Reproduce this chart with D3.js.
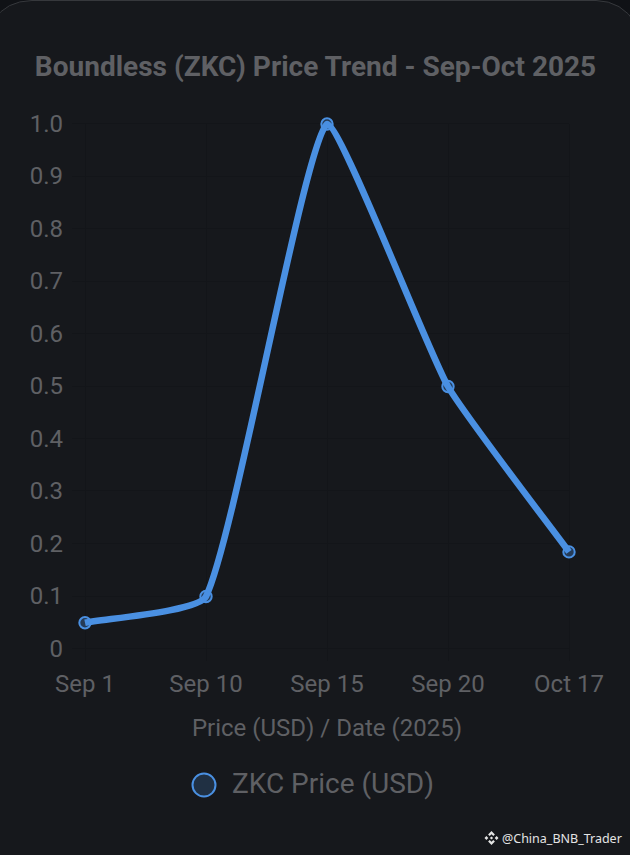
<!DOCTYPE html>
<html>
<head>
<meta charset="utf-8">
<script src="https://cdn.jsdelivr.net/npm/d3@7"></script>
<style>
  html, body { margin: 0; padding: 0; background: #101216; }
  svg { display: block; font-family: Roboto, sans-serif; }
</style>
</head>
<body>
<svg id="chart"></svg>
<script>
const dates = ['Sep 1', 'Sep 10', 'Sep 15', 'Sep 20', 'Oct 17'];
const prices = [0.05, 0.1, 1.0, 0.5, 0.185];
const yTicks = [0, 0.1, 0.2, 0.3, 0.4, 0.5, 0.6, 0.7, 0.8, 0.9, 1.0];
const titleText = 'Boundless (ZKC) Price Trend - Sep-Oct 2025';
const xTitleText = 'Price (USD) / Date (2025)';
const legendText = 'ZKC Price (USD)';
const watermarkText = '@China_BNB_Trader';

const width = 630,
  height = 855,
  plotLeft = 85,
  plotRight = 569,
  plotTop = 124,
  plotBottom = 649;

const lineColor = '#4a90e2',
  textColor = '#5f6064',
  gridColor = '#131519';

const svg = d3.select('#chart').attr('width', width).attr('height', height);

// card, runs past the picture on both sides so only the top edge shows
svg.append('path')
  .attr('d', 'M-6,20Q6,1 32,0.5H596Q622,1 636,24V' + (height + 5) + 'H-6Z')
  .attr('fill', '#16181c')
  .attr('stroke', '#36383c');

const x = d3.scalePoint().domain(dates).range([plotLeft, plotRight]);
const y = d3.scaleLinear().domain([0, 1]).range([plotBottom, plotTop]);

// same spline the original charting library uses, control points kept inside the plot
function cappedSpline(context) {
  let pts = [];
  const tension = 0.15;
  const capX = (v) => Math.max(plotLeft, Math.min(plotRight, v));
  const capY = (v) => Math.max(plotTop, Math.min(plotBottom, v));
  return {
    areaStart() {},
    areaEnd() {},
    lineStart() { pts = []; },
    point(px, py) { pts.push([px, py]); },
    lineEnd() {
      const ctrl = pts.map((p, i) => {
        const a = pts[i - 1] || p, b = pts[i + 1] || p;
        const d01 = Math.hypot(p[0] - a[0], p[1] - a[1]);
        const d12 = Math.hypot(b[0] - p[0], b[1] - p[1]);
        const s = d01 + d12 || 1;
        const fa = tension * d01 / s, fb = tension * d12 / s;
        return {
          prev: [capX(p[0] - fa * (b[0] - a[0])), capY(p[1] - fa * (b[1] - a[1]))],
          next: [capX(p[0] + fb * (b[0] - a[0])), capY(p[1] + fb * (b[1] - a[1]))]
        };
      });
      pts.forEach((p, i) => {
        if (i === 0) context.moveTo(p[0], p[1]);
        else context.bezierCurveTo(ctrl[i - 1].next[0], ctrl[i - 1].next[1], ctrl[i].prev[0], ctrl[i].prev[1], p[0], p[1]);
      });
    }
  };
}

// grid
svg.append('g')
  .selectAll('line')
  .data(yTicks)
  .enter()
  .append('line')
  .attr('x1', plotLeft - 13)
  .attr('x2', plotRight)
  .attr('y1', (d) => Math.round(y(d)) - 0.5)
  .attr('y2', (d) => Math.round(y(d)) - 0.5)
  .attr('stroke', gridColor);

svg.append('g')
  .selectAll('line')
  .data(dates)
  .enter()
  .append('line')
  .attr('x1', (d) => Math.round(x(d)) + 0.5)
  .attr('x2', (d) => Math.round(x(d)) + 0.5)
  .attr('y1', plotTop)
  .attr('y2', plotBottom + 12)
  .attr('stroke', gridColor);

// tick labels
svg.append('g')
  .selectAll('text')
  .data(yTicks)
  .enter()
  .append('text')
  .attr('x', plotLeft - 22)
  .attr('y', (d) => y(d) - 0.5)
  .attr('dy', '0.35em')
  .attr('text-anchor', 'end')
  .attr('font-size', 24)
  .attr('fill', textColor)
  .text((d) => (d === 0 ? '0' : d.toFixed(1)));

svg.append('g')
  .selectAll('text')
  .data(dates)
  .enter()
  .append('text')
  .attr('x', (d) => x(d))
  .attr('y', 692)
  .attr('text-anchor', 'middle')
  .attr('font-size', 24)
  .attr('fill', textColor)
  .text((d) => d);

// title and axis title
svg.append('text')
  .attr('x', 315.5)
  .attr('y', 76)
  .attr('text-anchor', 'middle')
  .attr('font-size', 28)
  .attr('font-weight', 700)
  .attr('fill', textColor)
  .text(titleText);

svg.append('text')
  .attr('x', 327)
  .attr('y', 736)
  .attr('text-anchor', 'middle')
  .attr('font-size', 24)
  .attr('fill', textColor)
  .text(xTitleText);

// line and points
const line = d3.line()
  .x((d, i) => x(dates[i]))
  .y((d) => y(d))
  .curve(cappedSpline);

svg.append('path')
  .datum(prices)
  .attr('d', line)
  .attr('fill', 'none')
  .attr('stroke', lineColor)
  .attr('stroke-width', 6.5)
  .attr('stroke-linejoin', 'round');

svg.append('g')
  .selectAll('circle')
  .data(prices)
  .enter()
  .append('circle')
  .attr('cx', (d, i) => x(dates[i]))
  .attr('cy', (d) => y(d))
  .attr('r', 5.7)
  .attr('fill', lineColor)
  .attr('fill-opacity', 0.3)
  .attr('stroke', lineColor)
  .attr('stroke-width', 2);

// legend
svg.append('circle')
  .attr('cx', 204)
  .attr('cy', 785)
  .attr('r', 11.5)
  .attr('fill', lineColor)
  .attr('fill-opacity', 0.2)
  .attr('stroke', lineColor)
  .attr('stroke-width', 2);

svg.append('text')
  .attr('x', 232)
  .attr('y', 793)
  .attr('font-size', 28)
  .attr('fill', textColor)
  .text(legendText);

// watermark
const mark = svg.append('g').attr('transform', 'translate(491.5,838)').attr('fill', '#e4e4e4');
mark.append('path').attr('d', 'M0,-7L3.4,-3.6L1.8,-2L0,-3.8L-1.8,-2L-3.4,-3.6ZM0,7L3.4,3.6L1.8,2L0,3.8L-1.8,2L-3.4,3.6ZM-7,0L-5.1,-1.9L-3.2,0L-5.1,1.9ZM7,0L5.1,-1.9L3.2,0L5.1,1.9ZM0,-1.6L1.6,0L0,1.6L-1.6,0Z');

svg.append('text')
  .attr('x', 502)
  .attr('y', 843)
  .attr('font-family', 'Noto Sans, sans-serif')
  .attr('font-size', 12.5)
  .attr('fill', '#e4e4e4')
  .text(watermarkText);
</script>
</body>
</html>
